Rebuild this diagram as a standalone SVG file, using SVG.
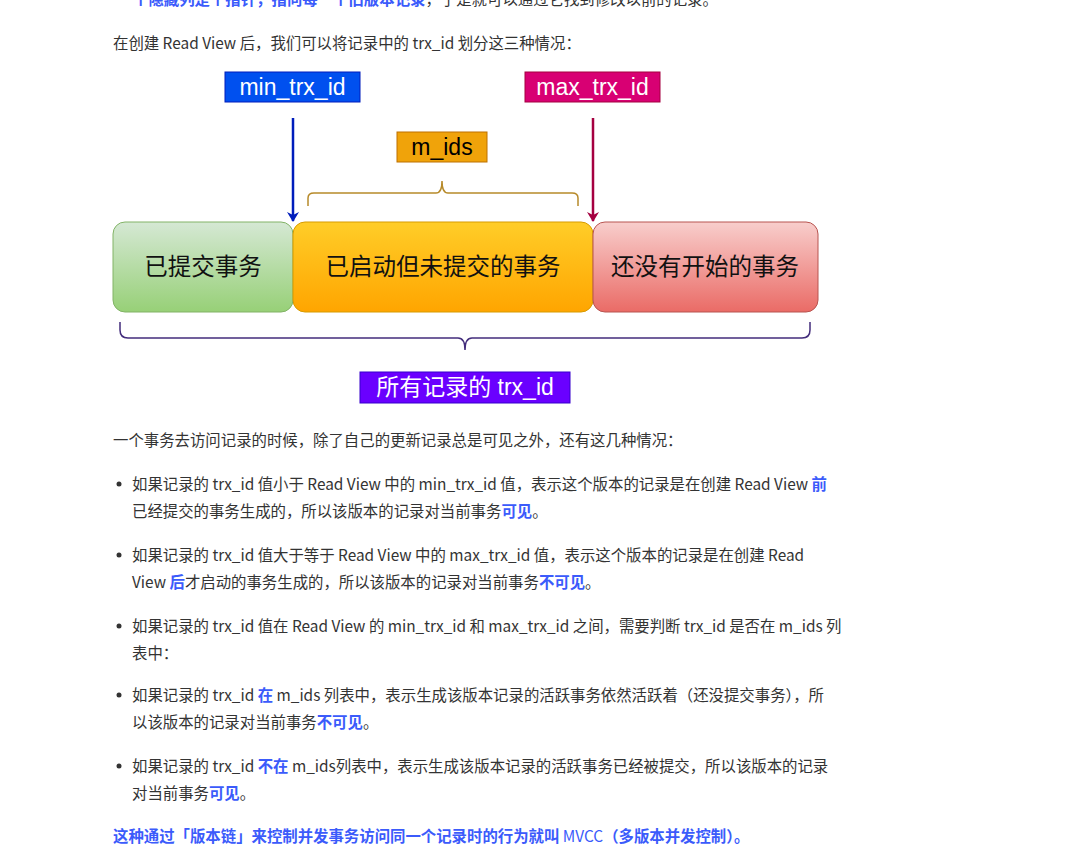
<svg xmlns="http://www.w3.org/2000/svg" width="1072" height="854" viewBox="0 0 1072 854">
<defs>
<style>
.t{font-family:"Noto Sans CJK SC","Noto Sans",sans-serif;font-size:15.4px;fill:#333}
.b{font-weight:bold;fill:#3b5bfb}
.lbl{font-family:"Liberation Sans","Noto Sans CJK SC",sans-serif;font-size:23px;fill:#fff;text-anchor:middle}
.cn{font-family:"Noto Sans CJK SC",sans-serif;font-size:23.5px;fill:#111;text-anchor:middle}
</style>
<linearGradient id="gg" x1="0" y1="0" x2="0" y2="1"><stop offset="0" stop-color="#d5e8d4"/><stop offset="1" stop-color="#97d077"/></linearGradient>
<linearGradient id="go" x1="0" y1="0" x2="0" y2="1"><stop offset="0" stop-color="#ffcd28"/><stop offset="1" stop-color="#ffa500"/></linearGradient>
<linearGradient id="gr" x1="0" y1="0" x2="0" y2="1"><stop offset="0" stop-color="#f8cecc"/><stop offset="1" stop-color="#ea6b66"/></linearGradient>
<marker id="ab" markerWidth="10" markerHeight="12" refX="9" refY="6" orient="auto" markerUnits="userSpaceOnUse"><path d="M0,0 L10,6 L0,12 L3,6z" fill="#001dbc"/></marker>
<marker id="ar" markerWidth="10" markerHeight="12" refX="9" refY="6" orient="auto" markerUnits="userSpaceOnUse"><path d="M0,0 L10,6 L0,12 L3,6z" fill="#a50040"/></marker>
</defs>
<rect width="1072" height="854" fill="#fff"/>
<text class="t" x="133" y="5"><tspan class="b">个隐藏列是个指针，指向每一个旧版本记录</tspan>，于是就可以通过它找到修改以前的记录。</text>
<text class="t" x="113" y="49">在创建 Read View 后，我们可以将记录中的 trx_id 划分这三种情况：</text>
<g id="connectors">
<line x1="293" y1="118" x2="293" y2="221" stroke="#001dbc" stroke-width="2.5" marker-end="url(#ab)"/>
<line x1="593" y1="118" x2="593" y2="221" stroke="#a50040" stroke-width="2.5" marker-end="url(#ar)"/>
<path d="M308,206 V198 Q308,193 314,193 H436 Q442,193 442,181 Q442,193 448,193 H572 Q578,193 578,198 V206" fill="none" stroke="#b78a2a" stroke-width="1.5"/>
<path d="M120,322 V330 Q120,338 128,338 H458 Q465,338 465,350 Q465,338 472,338 H802 Q810,338 810,330 V322" fill="none" stroke="#432d7c" stroke-width="1.5"/>
</g>
<g id="min"><rect x="225" y="72" width="135" height="30" fill="#0050ef" stroke="#001dbc"/><text class="lbl" x="292.5" y="95">min_trx_id</text></g>
<g id="max"><rect x="525" y="72" width="135" height="30" fill="#d80073" stroke="#a50040"/><text class="lbl" x="592.5" y="95">max_trx_id</text></g>
<g id="mids"><rect x="397" y="132" width="90" height="30" fill="#f0a30a" stroke="#bd7000"/><text class="lbl" x="442" y="155" style="fill:#000">m_ids</text></g>
<g id="committed"><rect x="113" y="222" width="180" height="90" rx="12" fill="url(#gg)" stroke="#82b366"/><text class="cn" x="203" y="275">已提交事务</text></g>
<g id="active"><rect x="293" y="222" width="300" height="90" rx="12" fill="url(#go)" stroke="#d79b00"/><text class="cn" x="443" y="275">已启动但未提交的事务</text></g>
<g id="future"><rect x="593" y="222" width="225" height="90" rx="12" fill="url(#gr)" stroke="#b85450"/><text class="cn" x="705" y="275">还没有开始的事务</text></g>
<g id="all"><rect x="360" y="372" width="210" height="31" fill="#6a00ff" stroke="#3700cc"/><text class="lbl" x="465" y="395">所有记录的 trx_id</text></g>
<text class="t" x="113" y="446">一个事务去访问记录的时候，除了自己的更新记录总是可见之外，还有这几种情况：</text>
<g fill="#333"><circle cx="119" cy="484" r="2.5"/><circle cx="119" cy="555" r="2.5"/><circle cx="119" cy="626" r="2.5"/><circle cx="119" cy="695" r="2.5"/><circle cx="119" cy="766" r="2.5"/></g>
<text class="t" x="132" y="490">如果记录的 trx_id 值小于 Read View 中的 min_trx_id 值，表示这个版本的记录是在创建 Read View <tspan class="b">前</tspan></text>
<text class="t" x="132" y="517">已经提交的事务生成的，所以该版本的记录对当前事务<tspan class="b">可见</tspan>。</text>
<text class="t" x="132" y="561">如果记录的 trx_id 值大于等于 Read View 中的 max_trx_id 值，表示这个版本的记录是在创建 Read</text>
<text class="t" x="132" y="588">View <tspan class="b">后</tspan>才启动的事务生成的，所以该版本的记录对当前事务<tspan class="b">不可见</tspan>。</text>
<text class="t" x="132" y="632">如果记录的 trx_id 值在 Read View 的 min_trx_id 和 max_trx_id 之间，需要判断 trx_id 是否在 m_ids 列</text>
<text class="t" x="132" y="659">表中：</text>
<text class="t" x="132" y="701">如果记录的 trx_id <tspan class="b">在</tspan> m_ids 列表中，表示生成该版本记录的活跃事务依然活跃着（还没提交事务），所</text>
<text class="t" x="132" y="728">以该版本的记录对当前事务<tspan class="b">不可见</tspan>。</text>
<text class="t" x="132" y="772">如果记录的 trx_id <tspan class="b">不在</tspan> m_ids列表中，表示生成该版本记录的活跃事务已经被提交，所以该版本的记录</text>
<text class="t" x="132" y="799">对当前事务<tspan class="b">可见</tspan>。</text>
<text class="t" x="113" y="842"><tspan class="b">这种通过「版本链」来控制并发事务访问同一个记录时的行为就叫</tspan> <tspan style="fill:#3b5bfb">MVCC</tspan><tspan class="b">（多版本并发控制）。</tspan></text>
</svg>
